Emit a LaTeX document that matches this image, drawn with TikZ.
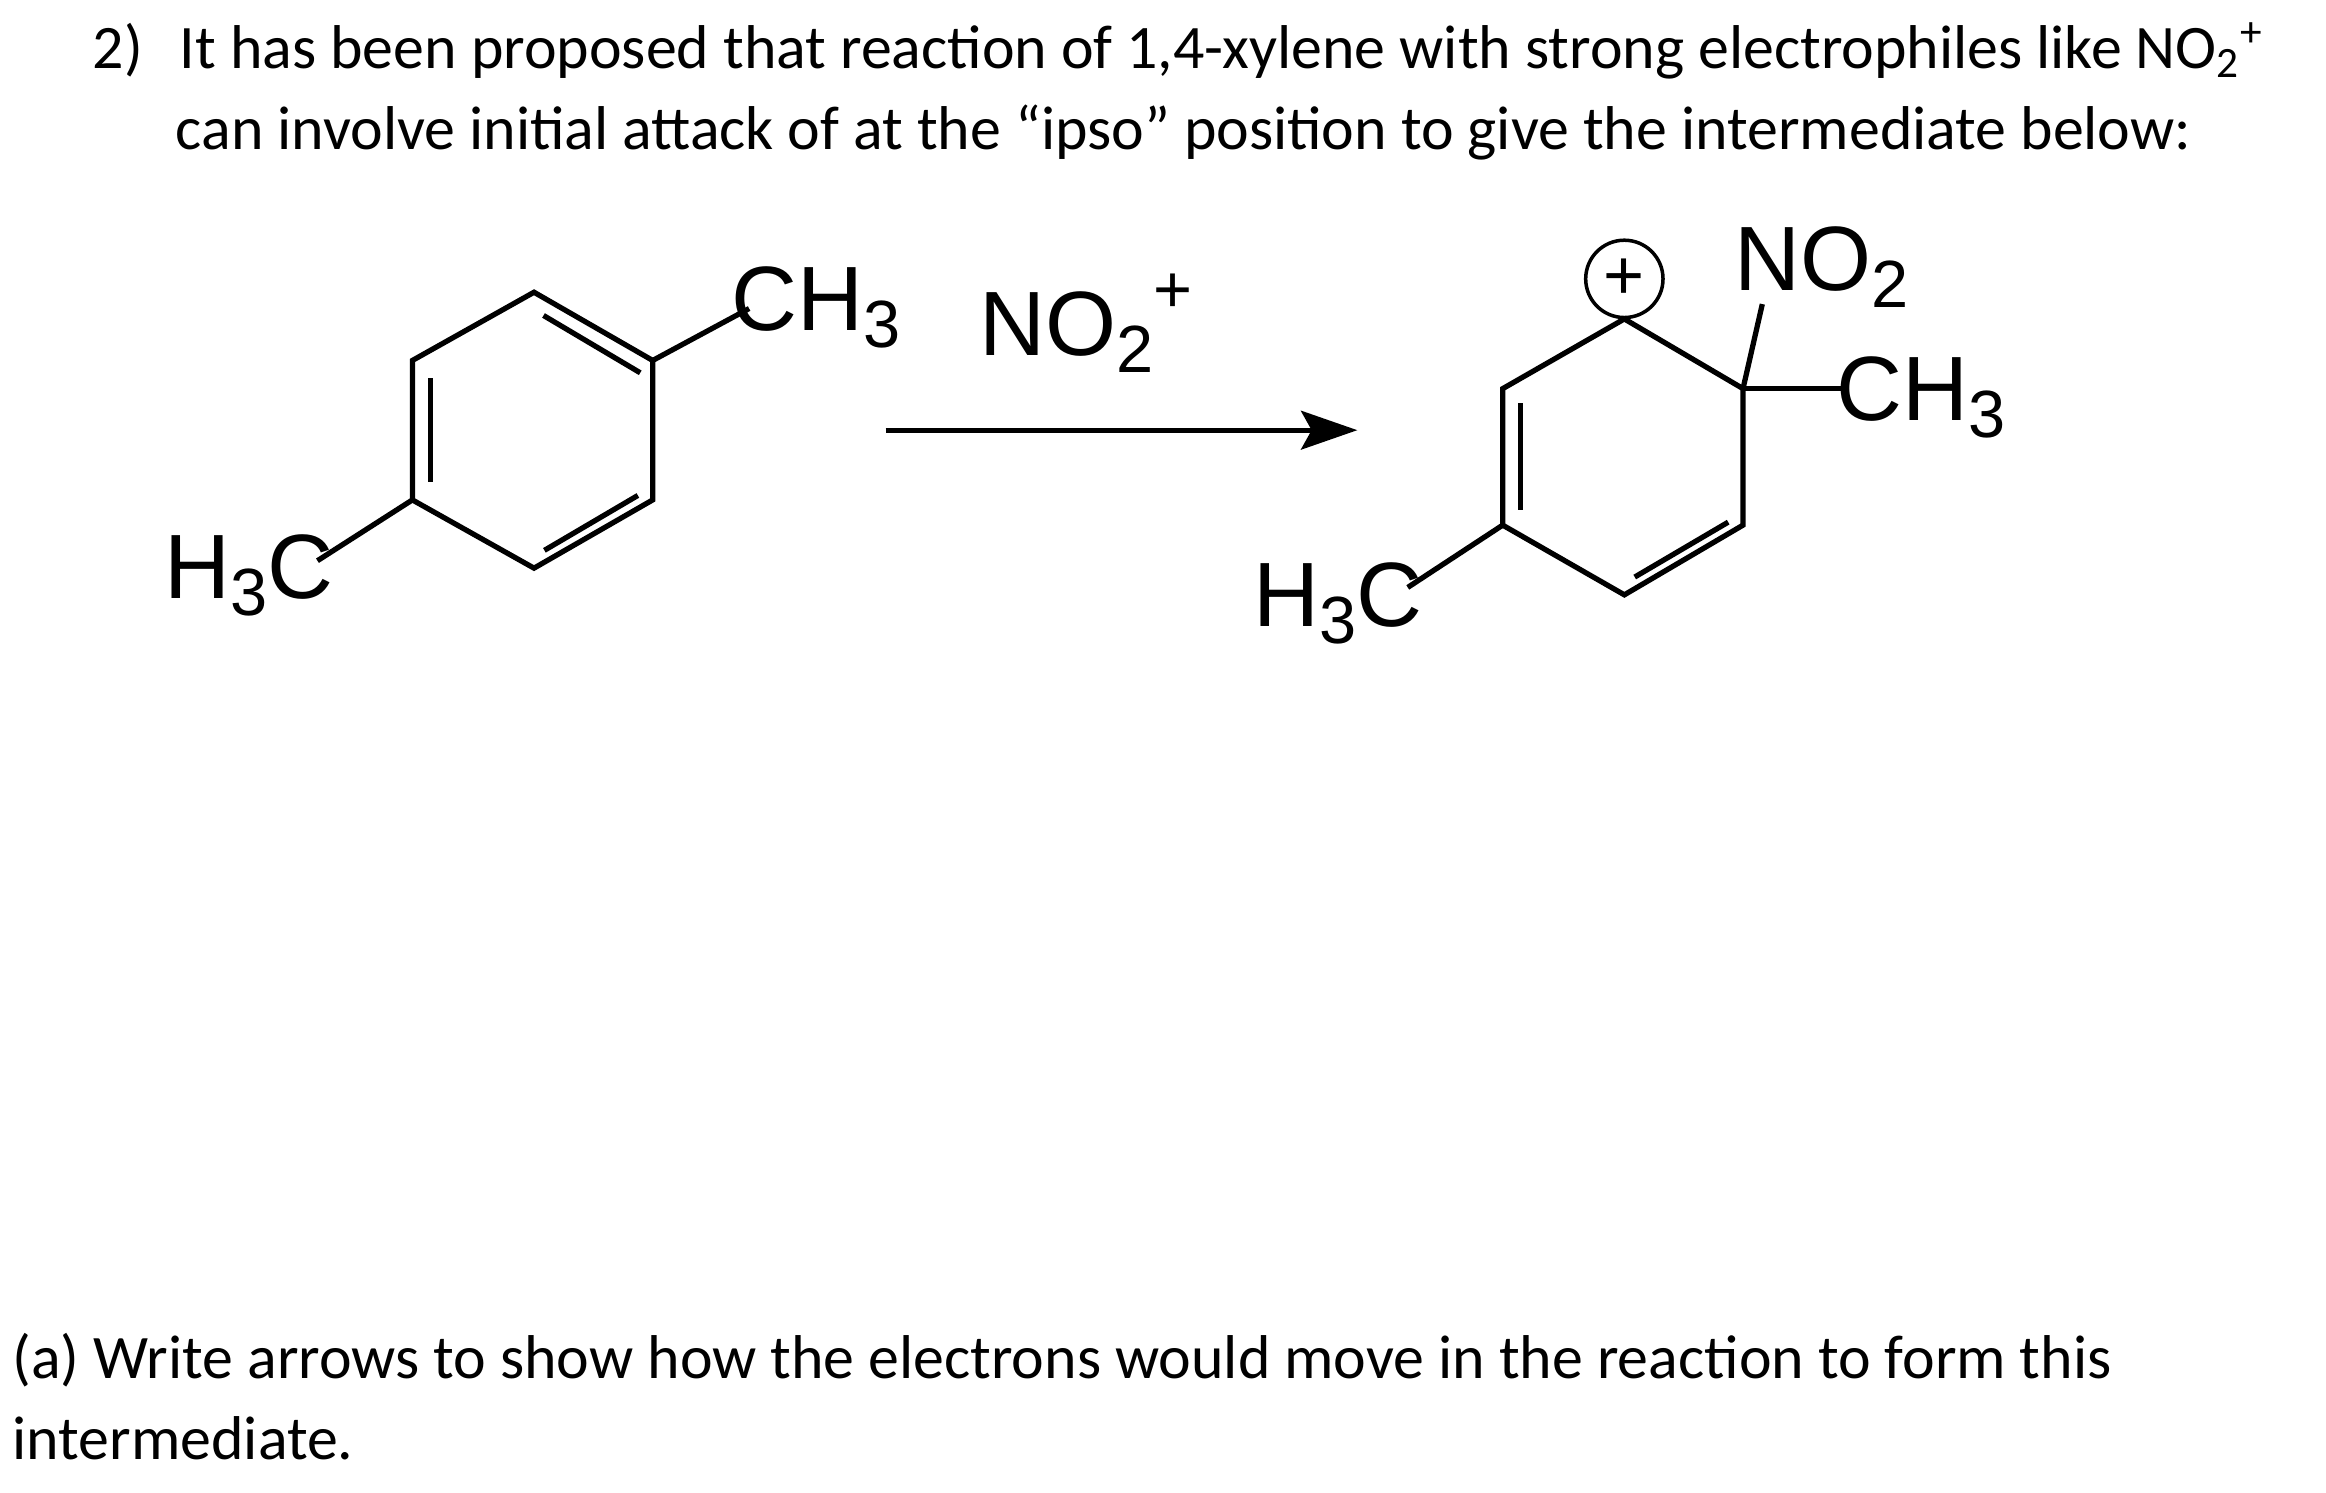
\documentclass[tikz,border=0pt]{standalone}
\usepackage{fontspec}
\setmainfont{Carlito}
\newfontfamily\chem{Liberation Sans}
\usetikzlibrary{calc,arrows.meta}
\newcommand{\csub}[1]{\raisebox{-0.35ex}{\fontsize{19}{19}\selectfont #1}}
\newcommand{\csup}[1]{\raisebox{0.9ex}{\fontsize{19}{19}\selectfont #1}}
\begin{document}
\begin{tikzpicture}[x=0.014834cm,y=-0.014834cm,
  bond/.style={line width=1.5pt},
  lab/.style={font=\chem\fontsize{26}{30}\selectfont,inner sep=0pt},
  txt/.style={font=\fontsize{17.6}{21}\selectfont,anchor=base west,inner sep=0pt}]
\useasboundingbox (0,0) rectangle (1568,1006);
\clip (0,0) rectangle (1568,1006);
\node[txt] (t1) at (62,46) {2)\hspace{0.6em}It has been proposed that reaction of 1,4-xylene with strong electrophiles like NO\textsubscript{2}\textsuperscript{+}};
\node[txt] (t2) at (118,101) {can involve initial attack of at the “ipso” position to give the intermediate below:};
\node[txt] (t3) at (8,929) {(a) Write arrows to show how the electrons would move in the reaction to form this};
\node[txt] (t4) at (8,984) {intermediate.};
% left ring
\coordinate (a1) at (360,197); \coordinate (a2) at (440,243); \coordinate (a3) at (440,337);
\coordinate (a4) at (360,383); \coordinate (a5) at (278,337); \coordinate (a6) at (278,243);
\draw[bond] (a1)--(a2)--(a3)--(a4)--(a5)--(a6)--cycle;
\draw[bond] ($(a1)!0.08!(a2)+(0,12)$)--($(a1)!0.92!(a2)+(-2,12)$);
\draw[bond] (290,255)--(290,325);
\draw[bond] (367,371)--(430,334);
\node[lab] (m1) at (550,207) {CH\csub{3}};
\node[lab] (m2) at (168,388) {H\csub{3}C};
\draw[bond] (a2)--(505,208);
\draw[bond] (a5)--(214,378);
% arrow
\node[lab] (r) at (732,218) {NO\csub{2}\csup{+}};
\coordinate (s) at (597,290); \coordinate (e) at (915,290);
\draw[line width=1.5pt,-{Stealth[length=16pt,width=11pt,inset=3pt]}] (s)--(e);
% right ring
\coordinate (b1) at (1095,215); \coordinate (b2) at (1175,262); \coordinate (b3) at (1175,354);
\coordinate (b4) at (1095,401); \coordinate (b5) at (1013,354); \coordinate (b6) at (1013,262);
\draw[bond] (b1)--(b2)--(b3)--(b4)--(b5)--(b6)--cycle;
\draw[bond] (1025,272)--(1025,344);
\draw[bond] (1102,389)--(1165,352);
\node[draw,circle,line width=1pt,minimum size=22pt,inner sep=0pt,font=\chem\fontsize{20}{20}\selectfont] (plus) at (1095,188) {+};
\node[lab] (n2) at (1228,180) {NO\csub{2}};
\node[lab] (m3) at (1295,268) {CH\csub{3}};
\node[lab] (m4) at (902,407) {H\csub{3}C};
\draw[bond] (b2)--(1188,205);
\draw[bond] (b2)--(1243,262);
\draw[bond] (b5)--(949,396);
\end{tikzpicture}
\end{document}
